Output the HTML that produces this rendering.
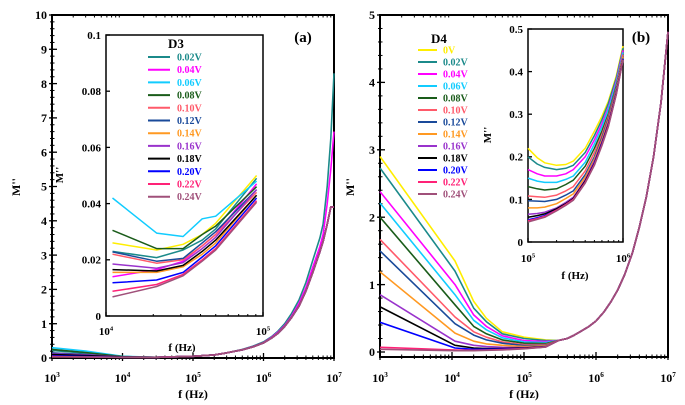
<!DOCTYPE html>
<html><head><meta charset="utf-8">
<style>
body{margin:0;background:#fff;}
svg{display:block;font-family:"Liberation Serif",serif;font-weight:bold;}
</style></head>
<body>
<svg id="chart" width="685" height="405" viewBox="0 0 685 405" xmlns="http://www.w3.org/2000/svg"></svg>
<script>
// ---------- data ----------
const labelsA = ["0.02V","0.04V","0.06V","0.08V","0.10V","0.12V","0.14V","0.16V","0.18V","0.20V","0.22V","0.24V"];
const labelsB = ["0V","0.02V","0.04V","0.06V","0.08V","0.10V","0.12V","0.14V","0.16V","0.18V","0.20V","0.22V","0.24V"];
const colorsB = ["#ffee00","#1b8a8a","#ff00ff","#11ccff","#1a5c1a","#ff5a6a","#1a4a9a","#ff9922","#9933cc","#000000","#0000ff","#ff2277","#a0507a"];
const colorsA = colorsB.slice(1);

// panel (a) main: low-frequency part
const freqALow = [1e3, 3e3, 1e4, 3e4];
const mainALow = [
 [0.22,0.14,0.04,0.02],[0.10,0.07,0.03,0.02],[0.30,0.2,0.05,0.02],[0.25,0.16,0.04,0.02],[0.14,0.1,0.03,0.02],[0.15,0.1,0.03,0.02],
 [0.08,0.06,0.02,0.02],[0.12,0.09,0.03,0.02],[0.10,0.07,0.03,0.02],[0.06,0.04,0.02,0.02],[0.04,0.03,0.02,0.02],[0.03,0.03,0.02,0.02]];
// panel (a) main tails
const freqATail = [1e5,2e5,3e5,5e5,7e5,1e6,1.3e6,1.6e6,2e6,2.5e6,3.2e6,4e6,5e6,6.3e6,7e6,8e6,9e6,1e7];
const tailATeal = [0.05,0.09,0.15,0.25,0.34,0.47,0.62,0.78,1.0,1.3,1.7,2.2,2.85,3.5,3.9,5.0,6.4,8.3];
const tailAMag  = [0.05,0.09,0.15,0.24,0.33,0.45,0.6,0.75,0.95,1.22,1.6,2.05,2.65,3.25,3.6,4.5,5.5,6.6];
const tailAOther= [0.05,0.09,0.15,0.24,0.32,0.44,0.58,0.72,0.92,1.18,1.52,1.95,2.5,3.1,3.4,3.9,4.4,4.4];

// panel (a) inset
const freqInsetA = [1.1e4,2.1e4,3.1e4,4.1e4,5e4,9.1e4];
const insetA = [
 [0.023,0.0208,0.0235,0.027,0.031,0.049],
 [0.014,0.0165,0.0195,0.025,0.029,0.047],
 [0.042,0.0295,0.0283,0.0346,0.0355,0.048],
 [0.0305,0.024,0.024,0.029,0.032,0.046],
 [0.022,0.0188,0.020,0.025,0.029,0.044],
 [0.0228,0.0195,0.0205,0.026,0.030,0.045],
 [0.0155,0.0155,0.0175,0.022,0.026,0.043],
 [0.0185,0.017,0.019,0.024,0.028,0.045],
 [0.0165,0.016,0.018,0.023,0.027,0.043],
 [0.0118,0.0128,0.0155,0.021,0.025,0.042],
 [0.0088,0.0112,0.0148,0.020,0.024,0.041],
 [0.0068,0.0105,0.0143,0.0195,0.0235,0.0405]];
const insetAYellow = [0.026,0.0235,0.0255,0.029,0.033,0.050];

// panel (b) main
const freqBLow = [1e3,1.1e4,2e4,3e4,5e4,1e5,2e5];
const mainBLow = [
 [2.9,1.35,0.75,0.5,0.3,0.22,0.18],
 [2.73,1.2,0.65,0.45,0.27,0.2,0.17],
 [2.38,1.0,0.55,0.38,0.24,0.17,0.155],
 [2.21,0.85,0.47,0.33,0.21,0.15,0.14],
 [2.0,0.7,0.38,0.27,0.18,0.13,0.125],
 [1.67,0.52,0.3,0.22,0.15,0.108,0.11],
 [1.5,0.42,0.25,0.18,0.13,0.097,0.1],
 [1.19,0.28,0.16,0.12,0.1,0.08,0.09],
 [0.85,0.16,0.1,0.08,0.07,0.065,0.08],
 [0.67,0.1,0.06,0.05,0.05,0.058,0.078],
 [0.44,0.06,0.04,0.04,0.045,0.052,0.075],
 [0.07,0.03,0.025,0.03,0.035,0.05,0.075],
 [0.04,0.02,0.02,0.025,0.03,0.047,0.073]];
const freqBTail = [3e5,4e5,5e5,6e5,8e5,1e6,1.3e6,1.6e6,2e6,2.5e6,3.2e6,4e6,5e6,6.3e6,8e6,1e7];
const tailB = [0.17,0.2,0.25,0.3,0.38,0.46,0.6,0.74,0.92,1.15,1.47,1.85,2.3,2.9,3.7,4.75];

// panel (b) inset
const freqInsetB = [1e5,1.25e5,1.5e5,2e5,2.5e5,3e5,4e5,5e5,6e5,7e5,8.5e5,1e6];
const insetB = [
 [0.22,0.198,0.186,0.18,0.182,0.19,0.22,0.26,0.295,0.33,0.39,0.46],
 [0.2,0.183,0.175,0.17,0.173,0.18,0.21,0.25,0.287,0.325,0.385,0.455],
 [0.17,0.16,0.155,0.155,0.16,0.17,0.2,0.24,0.278,0.315,0.378,0.45],
 [0.15,0.143,0.14,0.14,0.147,0.155,0.187,0.23,0.27,0.31,0.373,0.445],
 [0.13,0.125,0.122,0.125,0.135,0.145,0.178,0.22,0.26,0.3,0.367,0.44],
 [0.108,0.106,0.105,0.11,0.12,0.13,0.167,0.21,0.252,0.295,0.363,0.44],
 [0.097,0.096,0.095,0.1,0.11,0.12,0.158,0.2,0.245,0.29,0.36,0.435],
 [0.08,0.08,0.082,0.09,0.102,0.113,0.152,0.195,0.24,0.285,0.356,0.435],
 [0.065,0.067,0.07,0.08,0.093,0.105,0.146,0.19,0.235,0.28,0.352,0.43],
 [0.058,0.062,0.066,0.078,0.09,0.102,0.143,0.185,0.232,0.275,0.35,0.43],
 [0.052,0.057,0.062,0.075,0.088,0.1,0.14,0.183,0.23,0.272,0.348,0.43],
 [0.05,0.055,0.06,0.075,0.088,0.1,0.14,0.182,0.228,0.272,0.347,0.428],
 [0.047,0.053,0.058,0.073,0.086,0.098,0.138,0.18,0.226,0.27,0.346,0.428]];

const yTicksMainA = [0,1,2,3,4,5,6,7,8,9,10];
const yTicksInsetA = [0,0.02,0.04,0.06,0.08,0.1];
const yTicksMainB = [0,1,2,3,4,5];
const yTicksInsetB = [0,0.1,0.2,0.3,0.4,0.5];

// ---------- drawing ----------
const svg = document.getElementById('chart');
const NS = "http://www.w3.org/2000/svg";
function mk(tag, attrs, parent){
  const e = document.createElementNS(NS, tag);
  for (const k in attrs) e.setAttribute(k, attrs[k]);
  (parent||svg).appendChild(e);
  return e;
}
function txt(x,y,s,size,anchor,fill,parent){
  const t = mk('text',{x:x,y:y,'font-size':size,'text-anchor':anchor||'middle',fill:fill||'#000'},parent);
  t.textContent = s;
  return t;
}
function logScale(d0,d1,p0,p1){return v=>p0+(Math.log10(v)-d0)/(d1-d0)*(p1-p0);}
function linScale(d0,d1,p0,p1){return v=>p0+(v-d0)/(d1-d0)*(p1-p0);}
function line(xs,ys,sx,sy,color,w,parent,name){
  const pts = xs.map((f,i)=>sx(f).toFixed(1)+','+sy(ys[i]).toFixed(1)).join(' ');
  const p = mk('polyline',{points:pts,fill:'none',stroke:color,'stroke-width':w,'stroke-linejoin':'round'},parent);
  
  
  return p;
}
function pow10(x,y,e,size,g){
  const t = mk('text',{x:x,y:y,'font-size':size,'text-anchor':'middle'},g);
  t.textContent='10';
  const s = mk('tspan',{'font-size':size*0.6,dy:-size*0.4},t);
  s.textContent=e;
}
function axes(g,x0,x1,yTop,yBot,decs,sx,yTicks,sy,minorStep,fmt,size,tickLen,big){
  mk('rect',{x:x0,y:yTop,width:x1-x0,height:yBot-yTop,fill:'none',stroke:'#000','stroke-width':big?2:1.5},g);
  for(let d=decs[0]; d<=decs[1]; d++){
    const X=sx(Math.pow(10,d));
    mk('line',{x1:X,y1:yBot-tickLen,x2:X,y2:yBot+(big?3:0),stroke:'#000','stroke-width':1.3},g);
    if(d<decs[1]) for(let m=2;m<10;m++){
      const xm=sx(m*Math.pow(10,d));
      mk('line',{x1:xm,y1:yBot-tickLen/2,x2:xm,y2:yBot+(big?2:0),stroke:'#000','stroke-width':1},g);
    }
    if(big) for(let m=2;m<10&&d<decs[1];m++){
      const xm=sx(m*Math.pow(10,d));
      mk('line',{x1:xm,y1:yTop,x2:xm,y2:yTop+tickLen/2,stroke:'#000','stroke-width':1},g);
    }
  }
  yTicks.forEach(v=>{
    const Y=sy(v);
    mk('line',{x1:x0-(big?3:0),y1:Y,x2:x0+tickLen,y2:Y,stroke:'#000','stroke-width':1.3},g);
    txt(x0-5,Y+size*0.35,fmt(v),size,'end','#000',g);
  });
  if(minorStep){
    const lo=yTicks[0], hi=yTicks[yTicks.length-1];
    for(let v=lo; v<=hi+1e-9; v+=minorStep){
      const Y=sy(v);
      mk('line',{x1:x0-(big?2:0),y1:Y,x2:x0+tickLen/2,y2:Y,stroke:'#000','stroke-width':1},g);
    }
  }
}

// ===== Panel (a) =====
const gA = mk('g',{});  
const sxA = logScale(3,7,52,334), syA = linScale(0,10,358,15);
axes(gA,52,334,15,358,[3,7],sxA,yTicksMainA,syA,0.2,v=>String(v),12,5,true);
for(let d=3; d<=7; d++) pow10(sxA(Math.pow(10,d)),382,d,12,gA);
txt(193,398,'f (Hz)',12,'middle','#000',gA);
const ya = txt(0,0,"M''",12,'middle','#000',gA); ya.setAttribute('transform','translate(20,187) rotate(-90)');
txt(303,42,'(a)',15,'middle','#000',gA);
mainALow.forEach((s,i)=>{
  const tail = i===0?tailATeal:(i===1?tailAMag:tailAOther);
  line(freqALow.concat(freqATail), s.concat(tail), sxA, syA, colorsA[i], 1.6, gA, 'series-a-'+labelsA[i]);
});
// inset (a)
const gIA = mk('g',{});  
mk('rect',{x:106,y:35,width:157,height:281,fill:'#fff'},gIA);
const sxIA = logScale(4,5,106,263), syIA = linScale(0,0.1,316,35);
axes(gIA,106,263,35,316,[4,5],sxIA,yTicksInsetA,syIA,0,v=>String(Math.round(v*100)/100),11,4,false);
pow10(106,335,4,11,gIA); pow10(263,335,5,11,gIA);
txt(182,351,'f (Hz)',11,'middle','#000',gIA);
const yia = txt(0,0,"M''",11,'middle','#000',gIA); yia.setAttribute('transform','translate(63,175) rotate(-90)');
line(freqInsetA, insetAYellow, sxIA, syIA, colorsB[0], 1.5, gIA, 'inset-a-series-0V');
insetA.forEach((s,i)=>line(freqInsetA,s,sxIA,syIA,colorsA[i],1.5,gIA,'inset-a-series-'+labelsA[i]));
const legA = mk('g',{},gIA);  
txt(176,48,'D3',13,'middle','#000',legA);
labelsA.forEach((l,i)=>{
  const y=57+i*12.7;
  const e = mk('g',{},legA);
  
  
  mk('line',{x1:148,y1:y,x2:170,y2:y,stroke:colorsA[i],'stroke-width':2},e);
  txt(177,y+3.5,l,10,'start',colorsA[i],e);
});

// ===== Panel (b) =====
const gB = mk('g',{});  
const sxB = logScale(3,7,380,668), syB = linScale(0,5,352,15);
axes(gB,380,668,15,357,[3,7],sxB,yTicksMainB,syB,0.2,v=>String(v),12,5,true);
for(let d=3; d<=7; d++) pow10(sxB(Math.pow(10,d)),382,d,12,gB);
txt(524,398,'f (Hz)',12,'middle','#000',gB);
const yb = txt(0,0,"M''",12,'middle','#000',gB); yb.setAttribute('transform','translate(354,187) rotate(-90)');
txt(641,42,'(b)',15,'middle','#000',gB);
mainBLow.forEach((s,i)=>line(freqBLow.concat(freqBTail), s.concat(tailB), sxB, syB, colorsB[i], 1.6, gB, 'series-b-'+labelsB[i]));
const legB = mk('g',{},gB);  
txt(439,43,'D4',13,'middle','#000',legB);
labelsB.forEach((l,i)=>{
  const y=50+i*12;
  const e = mk('g',{},legB);
  
  
  mk('line',{x1:418,y1:y,x2:437,y2:y,stroke:colorsB[i],'stroke-width':2},e);
  txt(443,y+3.5,l,10,'start',colorsB[i],e);
});
// inset (b)
const gIB = mk('g',{});  
mk('rect',{x:528,y:29,width:95,height:213,fill:'#fff'},gIB);
const sxIB = logScale(5,6,528,623), syIB = linScale(0,0.5,242,29);
axes(gIB,528,623,29,242,[5,6],sxIB,yTicksInsetB,syIB,0,v=>String(v),11,4,false);
pow10(528,262,5,11,gIB); pow10(623,262,6,11,gIB);
txt(575,279,'f (Hz)',11,'middle','#000',gIB);
const yib = txt(0,0,"M''",11,'middle','#000',gIB); yib.setAttribute('transform','translate(491,135) rotate(-90)');
insetB.forEach((s,i)=>line(freqInsetB,s,sxIB,syIB,colorsB[i],1.5,gIB,'inset-b-series-'+labelsB[i]));
</script>
</body></html>
